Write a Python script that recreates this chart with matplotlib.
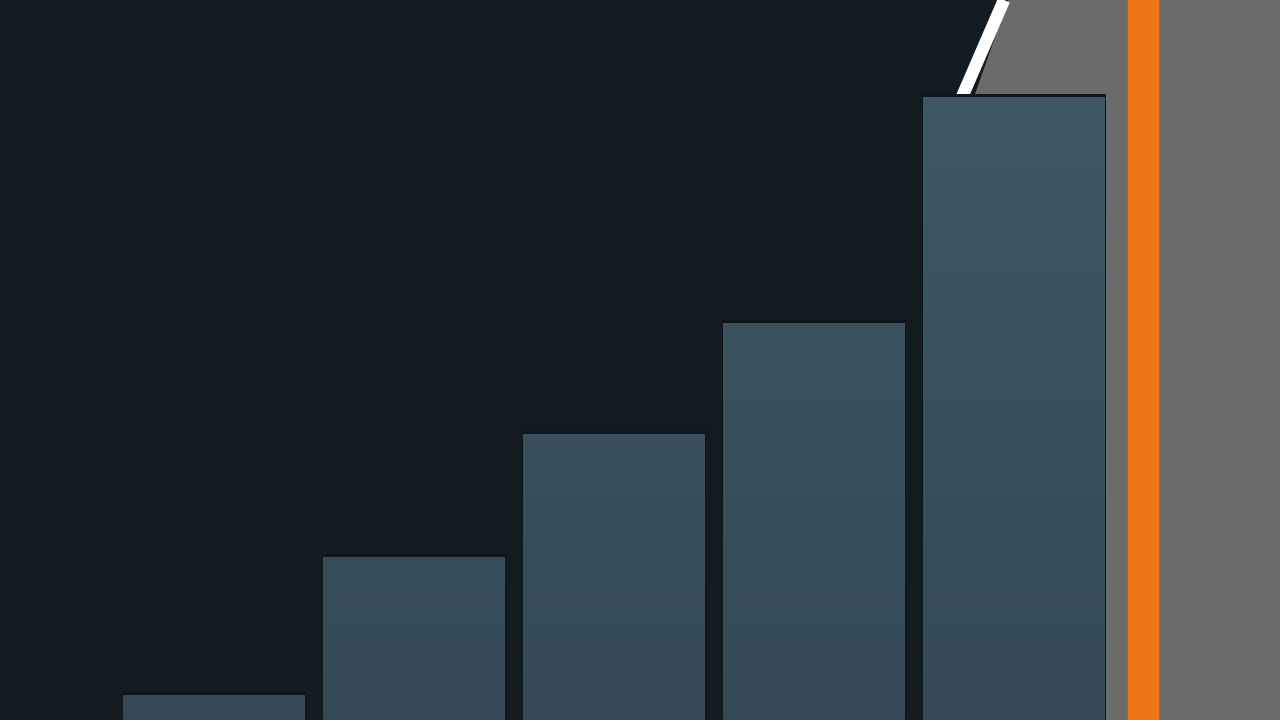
import numpy as np
import matplotlib.pyplot as plt
from matplotlib.patches import Polygon

# bar heights (same units as the y axis, 0..720)
categories = ["A", "B", "C", "D", "E"]
values = [25, 163, 286, 397, 623]

BG = "#111b21"
BAR_TOP = np.array([0x41, 0x59, 0x67]) / 255
BAR_BOTTOM = np.array([0x34, 0x49, 0x55]) / 255
PANEL = "#6b6b6b"
ORANGE = "#f07518"

fig = plt.figure(figsize=(12.8, 7.2), dpi=100)
fig.patch.set_facecolor(BG)
ax = fig.add_axes([0, 0, 1, 1])
ax.set_facecolor(BG)

x = np.arange(len(categories))
ax.set_xlim(-1.07, 5.33)
ax.set_ylim(0, 720)

# grey panel on the right, with a slanted white edge
panel = Polygon([(3.80, 623), (3.97, 720), (5.4, 720), (5.4, 0), (3.8, 0)],
                closed=True, facecolor=PANEL, edgecolor="none", zorder=1)
ax.add_patch(panel)
ax.plot([3.74, 3.95], [623, 720], color="white", lw=9, zorder=2,
        solid_capstyle="butt")

# orange vertical stripe
ax.axvspan(4.57, 4.72, color=ORANGE, zorder=2)

# bars with a faint shadow and a vertical gradient fill
ax.bar(x, [v + 3 for v in values], width=0.92, color="#0e171c", zorder=2.5)
bars = ax.bar(x, values, width=0.91, color="none", zorder=3)

t = np.linspace(0, 1, 256)[:, None]
grad = BAR_BOTTOM + (BAR_TOP - BAR_BOTTOM) * t
grad = np.repeat(grad[:, None, :], 2, axis=1)
for b in bars:
    im = ax.imshow(grad, origin="lower", aspect="auto", zorder=3,
                   extent=(-1.07, 5.33, 0, 720), interpolation="bilinear")
    im.set_clip_path(b)

ax.axis("off")
fig.savefig("out.png", dpi=100, facecolor=BG)
